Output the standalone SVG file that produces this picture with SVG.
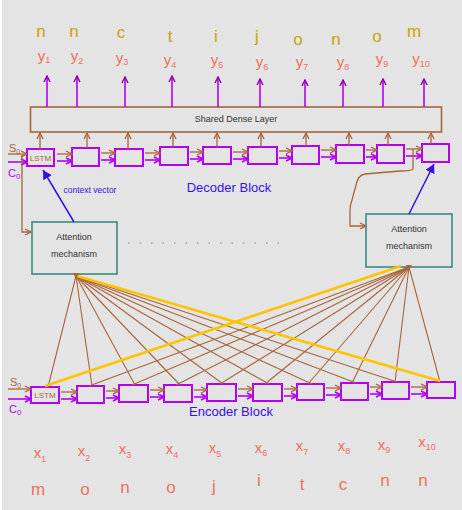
<svg xmlns="http://www.w3.org/2000/svg" width="462" height="510" viewBox="0 0 462 510">
<style>
.bg{fill:#e4e4e4}
.lstm{fill:none;stroke:#b400f0;stroke-width:2}
.att{fill:none;stroke:#3a8a80;stroke-width:1.6}
.dense{fill:none;stroke:#a5663c;stroke-width:1.6}
.br{fill:none;stroke:#a8643a;stroke-width:1.3}
.pu{fill:none;stroke:#b400f0;stroke-width:1.6}
.bl{fill:none;stroke:#3a10e8;stroke-width:1.5}
.yl{fill:none;stroke:#ffc400;stroke-width:2.6}
.fan{fill:none;stroke:#a8643a;stroke-width:1.1}
.top{font-family:"Liberation Sans",sans-serif;font-size:17px;fill:#c8a400;text-anchor:middle}
.yy{font-family:"Liberation Sans",sans-serif;font-size:15px;fill:#f07060;text-anchor:middle}
.sub{font-size:9px}
.lab{font-family:"Liberation Sans",sans-serif;font-size:9px;fill:#333;text-anchor:middle}
.blk{font-family:"Liberation Sans",sans-serif;font-size:13px;fill:#3a10e8;text-anchor:middle}
.in{font-family:"Liberation Sans",sans-serif;font-size:11px}
.lt{font-family:"Liberation Sans",sans-serif;font-size:8px;fill:#a5663c;text-anchor:middle}
</style>
<defs>
<marker id="ab" markerWidth="8" markerHeight="8" refX="7" refY="4" orient="auto" markerUnits="userSpaceOnUse"><path d="M1,1 L7,4 L1,7" fill="none" stroke="#a8643a" stroke-width="1.3"/></marker>
<marker id="ap" markerWidth="8" markerHeight="8" refX="7" refY="4" orient="auto" markerUnits="userSpaceOnUse"><path d="M1,1 L7,4 L1,7" fill="none" stroke="#b400f0" stroke-width="1.6"/></marker>
<marker id="apu" markerWidth="8" markerHeight="8" refX="7" refY="4" orient="auto" markerUnits="userSpaceOnUse"><path d="M1,1 L7,4 L1,7" fill="none" stroke="#8a00a8" stroke-width="1.4"/></marker>
<marker id="abl" markerWidth="10" markerHeight="10" refX="9" refY="5" orient="auto" markerUnits="userSpaceOnUse"><path d="M0,0 L9,5 L0,10 z" fill="#3a10e8"/></marker>
</defs>
<rect class="bg" x="0" y="0" width="462" height="510"/>
<rect x="0" y="0" width="2" height="510" fill="#ffffff"/>

<g id="output-letters">
<text class="top" x="41" y="37">n</text>
<text class="top" x="74" y="37">n</text>
<text class="top" x="121" y="38">c</text>
<text class="top" x="170" y="42">t</text>
<text class="top" x="216" y="42">i</text>
<text class="top" x="257" y="42">j</text>
<text class="top" x="298" y="45">o</text>
<text class="top" x="336" y="45">n</text>
<text class="top" x="377" y="42">o</text>
<text class="top" x="414" y="37">m</text>
</g>
<g id="outputs-y">
<text class="yy" x="44" y="61">y<tspan class="sub" dy="2">1</tspan></text>
<text class="yy" x="77" y="61">y<tspan class="sub" dy="3">2</tspan></text>
<text class="yy" x="122" y="63">y<tspan class="sub" dy="2">3</tspan></text>
<text class="yy" x="170" y="65">y<tspan class="sub" dy="3">4</tspan></text>
<text class="yy" x="217" y="65">y<tspan class="sub" dy="3">5</tspan></text>
<text class="yy" x="262" y="67">y<tspan class="sub" dy="3">6</tspan></text>
<text class="yy" x="302" y="67">y<tspan class="sub" dy="3">7</tspan></text>
<text class="yy" x="343" y="67">y<tspan class="sub" dy="3">8</tspan></text>
<text class="yy" x="382" y="64">y<tspan class="sub" dy="3">9</tspan></text>
<text class="yy" x="421" y="64">y<tspan class="sub" dy="3">10</tspan></text>
</g>

<g id="dense-layer">
<rect class="dense" x="30.5" y="107" width="411" height="25"/>
<text class="lab" x="236" y="122" font-size="8">Shared Dense Layer</text>
</g>

<g id="decoder">
<g id="dec1"><rect class="lstm" x="27" y="149" width="27" height="17"/><text class="lt" x="40.5" y="160.5">LSTM</text></g>
<g id="dec2"><rect class="lstm" x="72" y="148" width="27" height="18"/></g>
<g id="dec3"><rect class="lstm" x="115" y="149" width="28" height="17"/></g>
<g id="dec4"><rect class="lstm" x="160" y="147" width="28" height="18"/></g>
<g id="dec5"><rect class="lstm" x="203" y="147" width="28" height="17"/></g>
<g id="dec6"><rect class="lstm" x="248" y="147" width="29" height="17"/></g>
<g id="dec7"><rect class="lstm" x="292" y="146" width="27" height="18"/></g>
<g id="dec8"><rect class="lstm" x="336" y="145" width="28" height="18"/></g>
<g id="dec9"><rect class="lstm" x="377" y="145" width="27" height="18"/></g>
<g id="dec10"><rect class="lstm" x="422" y="144" width="27" height="18"/></g>
<text class="blk" x="229" y="192">Decoder Block</text>
</g>

<g id="encoder">
<g id="enc1"><rect class="lstm" x="31" y="387" width="28" height="16"/><text class="lt" x="45" y="398">LSTM</text></g>
<g id="enc2"><rect class="lstm" x="77" y="386" width="27" height="17"/></g>
<g id="enc3"><rect class="lstm" x="119" y="385" width="29" height="17"/></g>
<g id="enc4"><rect class="lstm" x="164" y="385" width="28" height="17"/></g>
<g id="enc5"><rect class="lstm" x="207" y="384" width="29" height="17"/></g>
<g id="enc6"><rect class="lstm" x="253" y="384" width="29" height="17"/></g>
<g id="enc7"><rect class="lstm" x="297" y="384" width="27" height="16"/></g>
<g id="enc8"><rect class="lstm" x="341" y="383" width="27" height="17"/></g>
<g id="enc9"><rect class="lstm" x="382" y="382" width="27" height="17"/></g>
<g id="enc10"><rect class="lstm" x="427" y="382" width="28" height="16"/></g>
<text class="blk" x="231" y="416" font-size="12">Encoder Block</text>
</g>

<g id="attention1">
<rect class="att" x="32" y="222" width="85" height="52"/>
<text class="lab" x="74" y="240">Attention</text>
<text class="lab" x="74" y="257">mechanism</text>
</g>
<g id="attention2">
<rect class="att" x="366" y="214" width="86" height="53"/>
<text class="lab" x="409" y="232">Attention</text>
<text class="lab" x="409" y="249">mechanism</text>
</g>

<g id="inputs-x">
<text class="yy" x="40" y="458" font-size="16">x<tspan class="sub" dy="4">1</tspan></text>
<text class="yy" x="84" y="456" font-size="16">x<tspan class="sub" dy="5">2</tspan></text>
<text class="yy" x="125" y="454" font-size="16">x<tspan class="sub" dy="4">3</tspan></text>
<text class="yy" x="172" y="454" font-size="16">x<tspan class="sub" dy="4">4</tspan></text>
<text class="yy" x="215" y="453" font-size="16">x<tspan class="sub" dy="4">5</tspan></text>
<text class="yy" x="261" y="453" font-size="16">x<tspan class="sub" dy="3">6</tspan></text>
<text class="yy" x="302" y="451" font-size="16">x<tspan class="sub" dy="4">7</tspan></text>
<text class="yy" x="344" y="451" font-size="16">x<tspan class="sub" dy="3">8</tspan></text>
<text class="yy" x="384" y="450" font-size="16">x<tspan class="sub" dy="3">9</tspan></text>
<text class="yy" x="427" y="447" font-size="16">x<tspan class="sub" dy="3">10</tspan></text>
</g>
<g id="input-letters" font-family="Liberation Sans,sans-serif" font-size="17" fill="#f07060" text-anchor="middle">
<text x="38" y="495">m</text>
<text x="85" y="495">o</text>
<text x="125" y="493">n</text>
<text x="171" y="493">o</text>
<text x="214" y="492">j</text>
<text x="259" y="486">i</text>
<text x="302" y="490">t</text>
<text x="343" y="490">c</text>
<text x="385" y="486">n</text>
<text x="423" y="486">n</text>
</g>

<g id="initial-states">
<text class="in" x="9" y="152" fill="#a8643a" font-size="10">S<tspan font-size="7" dy="2">0</tspan></text>
<text class="in" x="8" y="177" fill="#b400f0" font-size="12">C<tspan font-size="8" dy="2">0</tspan></text>
<text class="in" x="10" y="386" fill="#a8643a" font-size="10">S<tspan font-size="7" dy="2">0</tspan></text>
<text class="in" x="9" y="413" fill="#b400f0" font-size="12">C<tspan font-size="8" dy="2">0</tspan></text>
<text x="90" y="193" font-family="Liberation Sans,sans-serif" font-size="8.5" fill="#3a10e8" text-anchor="middle">context vector</text>
</g>

<g id="connectors">
<g class="pu" stroke="#8a00a8" marker-end="url(#apu)">
<path d="M47,107 V76"/><path d="M77,107 V76"/><path d="M125,107 V77"/><path d="M172,107 V76"/><path d="M218,107 V77"/>
<path d="M260,107 V79"/><path d="M305,107 V80"/><path d="M343,107 V80"/><path d="M383,107 V79"/><path d="M424,107 V79"/>
</g>
<g class="br" stroke-width="1.6" marker-end="url(#ab)">
<path d="M40,149 V133"/><path d="M87,148 V133"/><path d="M128,149 V133"/><path d="M173,147 V133"/><path d="M217,147 V133"/>
<path d="M261,147 V133"/><path d="M306,146 V133"/><path d="M349,145 V133"/><path d="M388,145 V133"/><path d="M431,144 V133"/>
</g>
<g class="br" marker-end="url(#ab)">
<path d="M8,154 H27"/>
<path d="M57,154 H72"/><path d="M101,153 H115"/><path d="M145,153 H160"/><path d="M190,152 H203"/><path d="M233,152 H248"/>
<path d="M279,151 H292"/><path d="M321,150 H336"/><path d="M366,150 H377"/><path d="M406,149 H422"/>
</g>
<g class="pu" marker-end="url(#ap)">
<path d="M8,162 H27"/>
<path d="M57,161 H72"/><path d="M101,160 H115"/><path d="M145,160 H160"/><path d="M190,159 H203"/><path d="M233,159 H248"/>
<path d="M279,158 H292"/><path d="M321,157 H336"/><path d="M366,157 H377"/><path d="M406,156 H422"/>
</g>
<g class="br" marker-end="url(#ab)">
<path d="M8,389 H31"/>
<path d="M61,392 H77"/><path d="M106,391 H119"/><path d="M150,390 H164"/><path d="M194,390 H207"/><path d="M238,389 H253"/>
<path d="M284,389 H297"/><path d="M326,388 H341"/><path d="M370,387 H382"/><path d="M411,387 H427"/>
</g>
<g class="pu" marker-end="url(#ap)">
<path d="M8,399 H31"/>
<path d="M61,399 H77"/><path d="M106,398 H119"/><path d="M150,397 H164"/><path d="M194,397 H207"/><path d="M238,396 H253"/>
<path d="M284,396 H297"/><path d="M326,395 H341"/><path d="M370,394 H382"/><path d="M411,394 H427"/>
</g>
<path class="br" d="M22,155 V232 H31" marker-end="url(#ab)"/>
<path class="br" d="M413,149 V169 Q412,171 400,171 L365,174 Q358,175 356,185 L352,200 Q350,205 350,210 V226 H366" marker-end="url(#ab)"/>
<path class="bl" d="M74,222 L43,170" marker-end="url(#abl)"/>
<path class="bl" d="M409,214 L434,164" marker-end="url(#abl)"/>
<path d="M128,243 H288" fill="none" stroke="#a8643a" stroke-width="1.1" stroke-dasharray="1.5 10" opacity="0.85"/>
<g class="fan">
<path d="M76,276 L48,387"/><path d="M76,276 L92,386"/><path d="M76,276 L135,385"/><path d="M76,276 L180,385"/><path d="M76,276 L223,384"/>
<path d="M76,276 L269,384"/><path d="M76,276 L312,384"/><path d="M76,276 L356,383"/><path d="M76,276 L397,382"/>
</g>
<g class="fan">
<path d="M409,267 L89,386"/><path d="M409,267 L132,385"/><path d="M409,267 L176,385"/><path d="M409,267 L220,384"/>
<path d="M409,267 L265,384"/><path d="M409,267 L308,384"/><path d="M409,267 L352,383"/><path d="M409,267 L395,382"/><path d="M409,267 L440,382"/>
</g>
<path class="yl" d="M77,276 L440,381"/>
<path class="yl" d="M401,266 L45,386"/>
<path d="M73,273 L79,273 L76,279 z" fill="#a8643a"/>
<path d="M406,265 L412,265 L409,270 z" fill="#a8643a"/>
</g>
</svg>
